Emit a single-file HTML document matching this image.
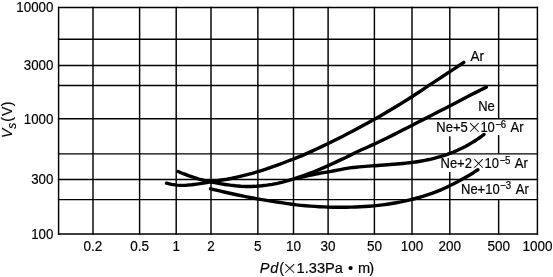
<!DOCTYPE html>
<html><head><meta charset="utf-8"><title>Vs - Pd</title>
<style>html,body{margin:0;padding:0;background:#fff}svg{display:block}text{font-family:"Liberation Sans",Arial,Helvetica,sans-serif;fill:#000}.x{font-family:"DejaVu Sans Light","DejaVu Sans","Liberation Sans",sans-serif;font-weight:200;stroke:none}</style></head><body>
<svg width="553" height="277" viewBox="0 0 553 277">
<rect width="553" height="277" fill="#fff"/>
<g stroke="#000" stroke-width="1.45" fill="none">
<line x1="58.6" y1="6.775" x2="58.6" y2="234.725"/>
<line x1="93.0" y1="6.775" x2="93.0" y2="234.725"/>
<line x1="139.6" y1="6.775" x2="139.6" y2="234.725"/>
<line x1="176.2" y1="6.775" x2="176.2" y2="234.725"/>
<line x1="211.0" y1="6.775" x2="211.0" y2="234.725"/>
<line x1="257.85" y1="6.775" x2="257.85" y2="234.725"/>
<line x1="293.5" y1="6.775" x2="293.5" y2="234.725"/>
<line x1="328.1" y1="6.775" x2="328.1" y2="234.725"/>
<line x1="374.4" y1="6.775" x2="374.4" y2="234.725"/>
<line x1="412.0" y1="6.775" x2="412.0" y2="234.725"/>
<line x1="449.8" y1="6.775" x2="449.8" y2="118.650"/>
<line x1="449.8" y1="136.200" x2="449.8" y2="153.850"/>
<line x1="449.8" y1="172.000" x2="449.8" y2="234.725"/>
<line x1="498.65" y1="6.775" x2="498.65" y2="118.650"/>
<line x1="498.65" y1="135.100" x2="498.65" y2="153.850"/>
<line x1="498.65" y1="199.600" x2="498.65" y2="234.725"/>
<line x1="537.4" y1="6.775" x2="537.4" y2="234.725"/>
<line x1="57.875" y1="7.5" x2="538.125" y2="7.5"/>
<line x1="57.875" y1="39.3" x2="538.125" y2="39.3"/>
<line x1="57.875" y1="65.5" x2="538.125" y2="65.5"/>
<line x1="57.875" y1="85.4" x2="538.125" y2="85.4"/>
<line x1="57.875" y1="118.65" x2="538.125" y2="118.65"/>
<line x1="57.875" y1="153.85" x2="538.125" y2="153.85"/>
<line x1="57.875" y1="179.4" x2="538.125" y2="179.4"/>
<line x1="57.875" y1="199.6" x2="538.125" y2="199.6"/>
<line x1="57.875" y1="234.0" x2="538.125" y2="234.0"/>
</g>
<g stroke="#000" stroke-width="3.4" fill="none" stroke-linecap="round" stroke-linejoin="round">
<path d="M166.5,183.18 L171.5,184.43 L176.6,185.12 L181.6,185.34 L186.7,185.18 L191.7,184.74 L196.7,184.08 L201.8,183.32 L206.8,182.50 L211.9,181.63 L216.9,180.72 L221.9,179.99 L227.0,179.25 L232.0,178.26 L237.0,177.12 L242.1,175.91 L247.1,174.66 L252.2,173.34 L257.2,171.92 L262.2,170.38 L267.3,168.72 L272.3,166.96 L277.4,165.13 L282.4,163.23 L287.4,161.29 L292.5,159.32 L297.5,157.39 L302.6,155.34 L307.6,153.16 L312.6,150.87 L317.7,148.52 L322.7,146.11 L327.7,143.68 L332.8,141.21 L337.8,138.71 L342.9,136.15 L347.9,133.54 L352.9,130.89 L358.0,128.21 L363.0,125.49 L368.1,122.75 L373.1,120.01 L378.1,117.26 L383.2,114.31 L388.2,111.31 L393.3,108.27 L398.3,105.19 L403.3,102.09 L408.4,98.95 L413.4,95.78 L418.4,92.49 L423.5,89.10 L428.5,85.71 L433.6,82.38 L438.6,79.08 L443.6,75.77 L448.7,72.44 L453.7,69.10 L458.8,65.75 L463.8,62.39"/>
<path d="M178.1,171.47 L183.3,173.70 L188.5,175.69 L193.8,177.46 L199.0,179.02 L204.2,180.40 L209.4,181.62 L214.7,182.69 L219.9,183.63 L225.1,184.46 L230.3,185.18 L235.6,185.78 L240.8,186.21 L246.0,186.45 L251.2,186.45 L256.5,186.22 L261.7,185.78 L266.9,185.14 L272.1,184.31 L277.4,183.30 L282.6,182.10 L287.8,180.73 L293.0,179.20 L298.2,177.36 L303.5,175.56 L308.7,173.72 L313.9,171.75 L319.1,169.62 L324.4,167.33 L329.6,164.99 L334.8,162.59 L340.0,160.14 L345.3,157.67 L350.5,155.15 L355.7,152.59 L360.9,150.06 L366.2,147.68 L371.4,145.37 L376.6,143.02 L381.8,140.51 L387.0,137.94 L392.3,135.35 L397.5,132.73 L402.7,130.09 L407.9,127.43 L413.2,124.74 L418.4,122.06 L423.6,119.37 L428.8,116.69 L434.1,114.02 L439.3,111.34 L444.5,108.66 L449.7,105.99 L455.0,103.27 L460.2,100.50 L465.4,97.73 L470.6,95.04 L475.9,92.39 L481.1,89.75 L486.3,87.12"/>
<path d="M300.0,177.84 L303.1,176.98 L306.2,176.18 L309.4,175.42 L312.5,174.72 L315.6,174.08 L318.7,173.47 L321.8,172.90 L325.0,172.37 L328.1,171.86 L331.2,171.31 L334.3,170.73 L337.4,170.15 L340.6,169.57 L343.7,168.94 L346.8,168.39 L349.9,167.92 L353.0,167.55 L356.2,167.23 L359.3,166.93 L362.4,166.65 L365.5,166.39 L368.6,166.14 L371.8,165.90 L374.9,165.68 L378.0,165.45 L381.1,165.23 L384.2,165.01 L387.4,164.79 L390.5,164.56 L393.6,164.31 L396.7,164.06 L399.9,163.78 L403.0,163.48 L406.1,163.15 L409.2,162.79 L412.3,162.39 L415.5,161.95 L418.6,161.48 L421.7,160.95 L424.8,160.37 L427.9,159.74 L431.1,159.05 L434.2,158.30 L437.3,157.48 L440.4,156.58 L443.5,155.62 L446.7,154.57 L449.8,153.44 L452.9,152.23 L456.0,150.93 L459.1,149.53 L462.3,148.03 L465.4,146.43 L468.5,144.72 L471.6,142.90 L474.7,140.97 L477.9,138.92 L481.0,136.75 L484.1,134.45"/>
<path d="M210.5,188.78 L215.0,189.88 L219.6,190.96 L224.1,192.01 L228.6,193.03 L233.2,194.03 L237.7,195.00 L242.2,195.93 L246.8,196.84 L251.3,197.72 L255.8,198.56 L260.4,199.37 L264.9,200.14 L269.4,200.88 L274.0,201.58 L278.5,202.24 L283.0,202.88 L287.5,203.57 L292.1,204.24 L296.6,204.85 L301.1,205.33 L305.7,205.74 L310.2,206.11 L314.7,206.42 L319.3,206.69 L323.8,206.92 L328.3,207.09 L332.9,207.21 L337.4,207.28 L341.9,207.30 L346.5,207.26 L351.0,207.17 L355.5,207.02 L360.1,206.81 L364.6,206.55 L369.1,206.23 L373.7,205.84 L378.2,205.38 L382.7,204.84 L387.3,204.23 L391.8,203.54 L396.3,202.77 L400.9,201.91 L405.4,200.95 L409.9,199.90 L414.4,198.75 L419.0,197.50 L423.5,196.14 L428.0,194.67 L432.6,193.09 L437.1,191.39 L441.6,189.56 L446.2,187.53 L450.7,185.32 L455.2,182.99 L459.8,180.58 L464.3,178.09 L468.8,175.46 L473.4,172.68 L477.9,169.75"/>
</g>
<text transform="translate(93.0,250.7) scale(1,1.06)" font-size="13.5" text-anchor="middle" stroke="#000" stroke-width="0.18">0.2</text>
<text transform="translate(139.6,250.7) scale(1,1.06)" font-size="13.5" text-anchor="middle" stroke="#000" stroke-width="0.18">0.5</text>
<text transform="translate(176.2,250.7) scale(1,1.06)" font-size="13.5" text-anchor="middle" stroke="#000" stroke-width="0.18">1</text>
<text transform="translate(211.0,250.7) scale(1,1.06)" font-size="13.5" text-anchor="middle" stroke="#000" stroke-width="0.18">2</text>
<text transform="translate(257.85,250.7) scale(1,1.06)" font-size="13.5" text-anchor="middle" stroke="#000" stroke-width="0.18">5</text>
<text transform="translate(293.5,250.7) scale(1,1.06)" font-size="13.5" text-anchor="middle" stroke="#000" stroke-width="0.18">10</text>
<text transform="translate(328.1,250.7) scale(1,1.06)" font-size="13.5" text-anchor="middle" stroke="#000" stroke-width="0.18">30</text>
<text transform="translate(374.4,250.7) scale(1,1.06)" font-size="13.5" text-anchor="middle" stroke="#000" stroke-width="0.18">50</text>
<text transform="translate(412.0,250.7) scale(1,1.06)" font-size="13.5" text-anchor="middle" stroke="#000" stroke-width="0.18">100</text>
<text transform="translate(449.8,250.7) scale(1,1.06)" font-size="13.5" text-anchor="middle" stroke="#000" stroke-width="0.18">200</text>
<text transform="translate(498.65,250.7) scale(1,1.06)" font-size="13.5" text-anchor="middle" stroke="#000" stroke-width="0.18">500</text>
<text transform="translate(537.4,250.7) scale(1,1.06)" font-size="13.5" text-anchor="middle" stroke="#000" stroke-width="0.18">1000</text>
<text transform="translate(53.3,12.1) scale(1,1.08)" font-size="13.3" text-anchor="end" stroke="#000" stroke-width="0.18">10000</text>
<text transform="translate(53.3,69.9) scale(1,1.08)" font-size="13.3" text-anchor="end" stroke="#000" stroke-width="0.18">3000</text>
<text transform="translate(53.3,123.6) scale(1,1.08)" font-size="13.3" text-anchor="end" stroke="#000" stroke-width="0.18">1000</text>
<text transform="translate(53.3,183.9) scale(1,1.08)" font-size="13.3" text-anchor="end" stroke="#000" stroke-width="0.18">300</text>
<text transform="translate(53.3,238.8) scale(1,1.08)" font-size="13.3" text-anchor="end" stroke="#000" stroke-width="0.18">100</text>
<text transform="translate(0,272.5) scale(1,1)" font-size="14.6" stroke="#000" stroke-width="0.18"><tspan x="259.8" font-style="italic" letter-spacing="0.6">Pd</tspan><tspan x="279.2">(</tspan><tspan x="296.6">1.33Pa</tspan><tspan x="348.0">•</tspan><tspan x="357.9">m</tspan><tspan x="369.2">)</tspan></text>
<text class="x" x="282.05" y="274.10" font-size="18.5">×</text>
<text transform="translate(11.6,138) scale(1,1) rotate(-90)" font-size="14" stroke="#000" stroke-width="0.18"><tspan font-style="italic">V</tspan><tspan font-style="italic" font-size="12" dy="4.1">s</tspan><tspan dy="-4.1" dx="1.0">(</tspan><tspan dx="1.1">V</tspan><tspan dx="0.3">)</tspan></text>
<text transform="translate(470.5,60.5) scale(1,1.07)" font-size="13.5" stroke="#000" stroke-width="0.18">Ar</text>
<text transform="translate(478.2,111.0) scale(1,1.07)" font-size="13" stroke="#000" stroke-width="0.18">Ne</text>
<text transform="translate(436.3,132.1) scale(1,1.07)" font-size="13" stroke="#000" stroke-width="0.18"><tspan x="0">Ne+5</tspan><tspan x="44.1">10</tspan><tspan x="58.9" font-size="9.7" dy="-4.0">−6</tspan><tspan x="74.3" dy="4.0">Ar</tspan></text><text class="x" x="466.97" y="133.09" font-size="17.5">×</text>
<text transform="translate(440.5,168.1) scale(1,1.07)" font-size="13" stroke="#000" stroke-width="0.18"><tspan x="0">Ne+2</tspan><tspan x="44.1">10</tspan><tspan x="58.9" font-size="9.7" dy="-4.0">−5</tspan><tspan x="74.3" dy="4.0">Ar</tspan></text><text class="x" x="471.17" y="169.09" font-size="17.5">×</text>
<text transform="translate(461.0,193.5) scale(1,1.07)" font-size="13" stroke="#000" stroke-width="0.18"><tspan x="0">Ne+10</tspan><tspan x="39.0" font-size="9.7" dy="-4.4">−3</tspan><tspan x="54.8" dy="4.4">Ar</tspan></text>
</svg></body></html>
